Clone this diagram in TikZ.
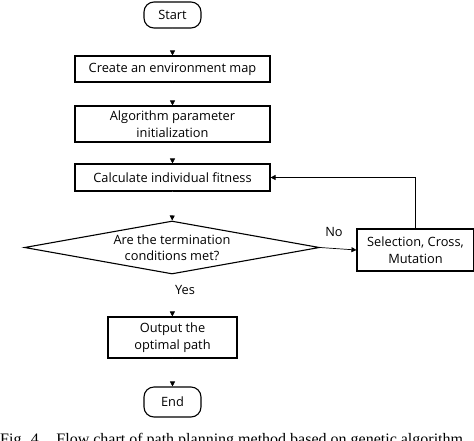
\documentclass[tikz,border=0pt]{standalone}
\usepackage{fontspec}
\setmainfont{Liberation Serif}
\newfontfamily\flowfont{Open Sans}
\usetikzlibrary{shapes.geometric,arrows.meta}
\tikzset{
  flowtext/.style={font=\flowfont\fontsize{12.8}{16.5}\selectfont},
  procbox/.style={draw, line width=1.1pt, rectangle, inner sep=0pt, align=center, flowtext},
  termbox/.style={draw, line width=1.1pt, rectangle, rounded corners=10pt, inner sep=0pt, align=center, flowtext},
  decbox/.style={draw, line width=1.1pt, diamond, inner sep=0pt, align=center, flowtext},
  hidarrow/.style={draw=white, line width=0.6pt, -{Triangle[length=5pt,width=5pt,color=black,fill=black]}},
  flowarrow/.style={draw=black, line width=0.7pt, -{Triangle[length=5pt,width=5pt,color=black,fill=black]}},
  lbl/.style={flowtext, inner sep=0pt}
}
\begin{document}
\begin{tikzpicture}[x=1pt,y=-1pt]
\clip (0,0) rectangle (474,440);
\fill[white] (0,0) rectangle (474,440);
\node[termbox, minimum width=57pt, minimum height=26pt] (start) at (172.5,15) {Start};
\node[procbox, minimum width=195pt, minimum height=26pt] (env) at (172.5,69) {Create an environment map};
\node[procbox, minimum width=195pt, minimum height=36pt] (init) at (172.5,124) {Algorithm parameter\\initialization};
\node[procbox, minimum width=195pt, minimum height=27pt] (fit) at (172.5,177.5) {Calculate individual fitness};
\node[decbox, minimum width=295pt, minimum height=53pt, aspect=5.57] (dec) at (172,247.5) {Are the termination\\conditions met?};
\node[procbox, minimum width=117pt, minimum height=42pt] (sel) at (415.5,250) {Selection, Cross,\\Mutation};
\node[procbox, minimum width=129pt, minimum height=41pt] (out) at (172.5,337.5) {Output the\\optimal path};
\node[termbox, minimum width=57pt, minimum height=30pt] (end) at (172.5,402) {End};
\node[lbl] (no) at (334,232) {No};
\node[lbl] (yes) at (185,290) {Yes};
\coordinate (corner) at (sel.north |- fit.east);

\draw[hidarrow] (start) -- (env);
\draw[hidarrow] (env) -- (init);
\draw[hidarrow] (init) -- (fit);
\draw[hidarrow] (fit) -- (dec);
\draw[hidarrow] (dec) -- (out);
\draw[hidarrow] (out) -- (end);
\draw[flowarrow] (dec.east) -- (sel.west);
\draw[flowarrow] (sel.north) -- (corner) -- (fit.east);

\node[anchor=base west, inner sep=0pt, font=\fontsize{16}{18}\selectfont] (cap) at (0,444.5) {Fig. 4\hspace{1.1em}Flow chart of path planning method based on genetic algorithm};
\end{tikzpicture}
\end{document}
